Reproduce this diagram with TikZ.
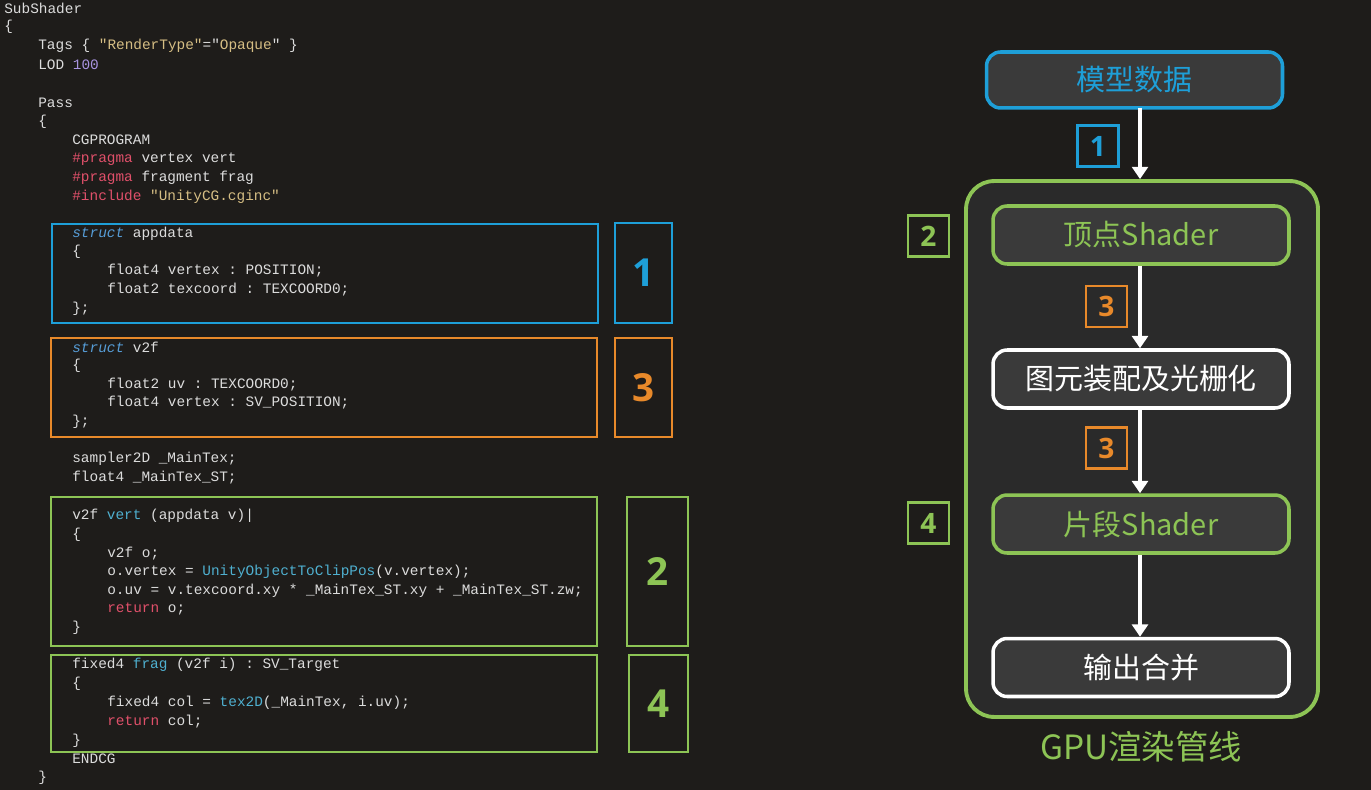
\documentclass[tikz,border=0pt]{standalone}
\usepackage{fontspec}
\usepackage{xcolor}
\setmonofont{Liberation Mono}
\newfontfamily\cjk{Noto Sans CJK SC}
\newfontfamily\lab{Open Sans}
\definecolor{bg}{HTML}{1E1C1A}
\definecolor{gpufill}{HTML}{2A2A2A}
\definecolor{ctext}{HTML}{DCDCDC}
\definecolor{ckw}{HTML}{569CD6}
\definecolor{cstr}{HTML}{D6BE84}
\definecolor{cnum}{HTML}{A994E0}
\definecolor{cpre}{HTML}{E0506A}
\definecolor{cfn}{HTML}{4FB0D0}
\definecolor{cblue}{HTML}{1E9FD8}
\definecolor{corange}{HTML}{E8892A}
\definecolor{cgreen}{HTML}{8DC455}
\definecolor{boxfill}{HTML}{3A3A3A}
\newcommand{\kw}[1]{\textcolor{ckw}{\itshape #1}}
\newcommand{\st}[1]{\textcolor{cstr}{#1}}
\newcommand{\pp}[1]{\textcolor{cpre}{#1}}
\newcommand{\fn}[1]{\textcolor{cfn}{#1}}
\begin{document}
\begin{tikzpicture}[x=0.02cm,y=-0.02cm,
  code/.style={anchor=west,inner sep=0pt,text=ctext,font=\ttfamily\fontsize{8.2pt}{9pt}\selectfont},
  hl/.style={line width=1.6pt,draw=#1},
  biglab/.style={draw=#1,line width=1.6pt,text=#1,font=\lab\bfseries\fontsize{22pt}{24pt}\selectfont},
  smlab/.style={draw=#1,line width=1.6pt,text=#1,minimum width=0.82cm,minimum height=0.82cm,inner sep=0pt,font=\lab\bfseries\fontsize{16pt}{18pt}\selectfont},
  stage/.style={draw=#1,line width=2pt,fill=boxfill,rounded corners=8pt,minimum width=5.92cm,minimum height=1.16cm,inner sep=0pt,text=#1,font=\cjk\fontsize{16.5pt}{18pt}\selectfont},
  arr/.style={draw=white,line width=2pt,-{Triangle[length=7pt,width=9pt]}}]
\usetikzlibrary{arrows.meta}
\useasboundingbox (0,0) rectangle (1371,790);
\fill[bg] (0,0) rectangle (1371,790);
% code highlight boxes
\draw[hl=cblue] (52,224) rectangle (598,323);
\draw[hl=corange] (51,338) rectangle (597,437);
\draw[hl=cgreen] (51,497) rectangle (597,646);
\draw[hl=cgreen] (51,655) rectangle (597,752);
\node[biglab=cblue,minimum width=1.14cm,minimum height=2cm] (l1) at (643.5,273) {1};
\node[biglab=corange,minimum width=1.14cm,minimum height=1.98cm] (l3) at (643.5,387.5) {3};
\node[biglab=cgreen,minimum width=1.22cm,minimum height=2.98cm] (l2) at (657.5,571.5) {2};
\node[biglab=cgreen,minimum width=1.18cm,minimum height=1.94cm] (l4) at (658.5,703.5) {4};
% code
\node[code] (c1) at (4,8) {SubShader};
\node[code] (c2) at (4,27) {\{};
\node[code] (c3) at (38,46) {Tags \{ \st{"RenderType"}="\st{Opaque}" \}};
\node[code] (c4) at (38,65) {LOD \textcolor{cnum}{100}};
\node[code] (c5) at (38,103) {Pass};
\node[code] (c6) at (38,122) {\{};
\node[code] (c7) at (72,140) {CGPROGRAM};
\node[code] (c8) at (72,159) {\pp{\#pragma} vertex vert};
\node[code] (c9) at (72,178) {\pp{\#pragma} fragment frag};
\node[code] (c10) at (72,197) {\pp{\#include} \st{"UnityCG.cginc"}};
\node[code] (c11) at (72,234) {\kw{struct} appdata};
\node[code] (c12) at (72,252) {\{};
\node[code] (c13) at (107,271) {float4 vertex : POSITION;};
\node[code] (c14) at (107,290) {float2 texcoord : TEXCOORD0;};
\node[code] (c15) at (72,309) {\};};
\node[code] (c16) at (72,347) {\kw{struct} v2f};
\node[code] (c17) at (72,366) {\{};
\node[code] (c18) at (107,385) {float2 uv : TEXCOORD0;};
\node[code] (c19) at (107,403) {float4 vertex : SV\_POSITION;};
\node[code] (c20) at (72,422) {\};};
\node[code] (c21) at (72,459) {sampler2D \_MainTex;};
\node[code] (c22) at (72,478) {float4 \_MainTex\_ST;};
\node[code] (c23) at (72,516) {v2f \fn{vert} (appdata v)|};
\node[code] (c24) at (72,535) {\{};
\node[code] (c25) at (107,554) {v2f o;};
\node[code] (c26) at (107,572) {o.vertex = \fn{UnityObjectToClipPos}(v.vertex);};
\node[code] (c27) at (107,591) {o.uv = v.texcoord.xy * \_MainTex\_ST.xy + \_MainTex\_ST.zw;};
\node[code] (c28) at (107,609) {\pp{return} o;};
\node[code] (c29) at (72,628) {\}};
\node[code] (c30) at (72,665) {fixed4 \fn{frag} (v2f i) : SV\_Target};
\node[code] (c31) at (72,684) {\{};
\node[code] (c32) at (107,703) {fixed4 col = \fn{tex2D}(\_MainTex, i.uv);};
\node[code] (c33) at (107,722) {\pp{return} col;};
\node[code] (c34) at (72,741) {\}};
\node[code] (c35) at (72,759) {ENDCG};
\node[code] (c36) at (38,778) {\}};
% pipeline
\node[draw=cgreen,line width=2.2pt,fill=gpufill,rounded corners=16pt,minimum width=7.04cm,minimum height=10.72cm,inner sep=0pt] (gpu) at (1142,449) {};
\node[stage=cblue,minimum height=1.12cm] (m) at (1134.5,80) {模型数据};
\node[stage=cgreen] (v) at (1141,235) {顶点Shader};
\node[stage=white] (r) at (1141,379) {图元装配及光栅化};
\node[stage=cgreen] (f) at (1141,524) {片段Shader};
\node[stage=white] (o) at (1141,667.5) {输出合并};
\node[text=cgreen,font=\cjk\fontsize{19pt}{21pt}\selectfont,inner sep=0pt] (t) at (1141,747) {GPU渲染管线};
\draw[arr] (1140,108) -- (gpu.north -| 1140,0);
\draw[arr] (v.south -| 1140,0) -- (r.north -| 1140,0);
\draw[arr] (r.south -| 1140,0) -- (f.north -| 1140,0);
\draw[arr] (f.south -| 1140,0) -- (o.north -| 1140,0);
\node[smlab=cblue] (p1) at (1098,146) {1};
\node[smlab=cgreen] (p2) at (928.5,236) {2};
\node[smlab=corange] (p3) at (1106.5,306.5) {3};
\node[smlab=corange] (p3b) at (1106.5,448) {3};
\node[smlab=cgreen] (p4) at (928.5,523) {4};
\end{tikzpicture}
\end{document}
